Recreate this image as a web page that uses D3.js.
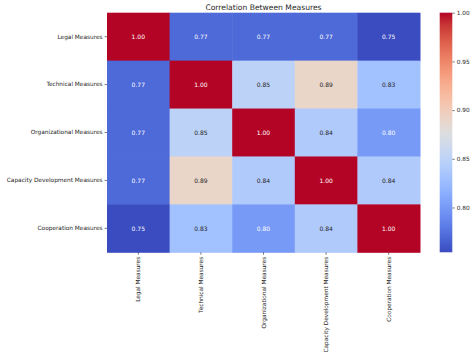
<!DOCTYPE html>
<html>
<head>
<meta charset="utf-8">
<script src="https://cdn.jsdelivr.net/npm/d3@7"></script>
<style>
  body { margin: 0; background: #fff; }
  text { font-family: "DejaVu Sans", sans-serif; }
</style>
</head>
<body>
<div class="chart"></div>
<script>
const width = 474;
const height = 352;

// data
const measures = ["Legal Measures", "Technical Measures", "Organizational Measures",
    "Capacity Development Measures", "Cooperation Measures"];
const corrLegal = [1.00, 0.77, 0.77, 0.77, 0.754];
const corrTechnical = [0.77, 1.00, 0.85, 0.89, 0.83];
const corrOrganizational = [0.77, 0.85, 1.00, 0.84, 0.80];
const corrCapacity = [0.77, 0.89, 0.84, 1.00, 0.84];
const corrCooperation = [0.754, 0.83, 0.80, 0.84, 1.00];
const cbTicks = [0.80, 0.85, 0.90, 0.95, 1.00];

const matrix = [corrLegal, corrTechnical, corrOrganizational, corrCapacity, corrCooperation];

// matplotlib coolwarm control points
const coolwarm = ["#3b4cc0", "#445acc", "#4d68d7", "#5775e1", "#6282ea", "#6c8ef1", "#779af7",
    "#82a5fb", "#8db0fe", "#98b9ff", "#a3c2ff", "#aec9fd", "#b8d0f9", "#c2d5f4", "#ccd9ee",
    "#d5dbe6", "#dddddd", "#e5d8d1", "#ecd3c5", "#f1ccb9", "#f5c4ad", "#f7bba0", "#f7b194",
    "#f7a687", "#f49a7b", "#f18d6f", "#ec7f63", "#e57058", "#de604d", "#d55042", "#cb3e38",
    "#c0282f", "#b40426"];
const vmin = 0.754, vmax = 1.0;
const color = d3.scaleSequential(d3.piecewise(d3.interpolateRgb, coolwarm)).domain([vmin, vmax]);

const svg = d3.select(".chart")
    .append("svg")
    .attr("width", width)
    .attr("height", height);

const mLeft = 107, mRight = 420, mTop = 12.7, mBottom = 252.3;

const x = d3.scaleBand().domain(measures).range([mLeft, mRight]);
const y = d3.scaleBand().domain(measures).range([mTop, mBottom]);

// cells
const cells = [];
matrix.forEach((row, i) => row.forEach((v, j) => cells.push({ r: measures[i], c: measures[j], v: v })));

svg.selectAll("rect.cell")
    .data(cells)
    .join("rect")
    .attr("class", "cell")
    .attr("x", d => x(d.c))
    .attr("y", d => y(d.r))
    .attr("width", x.bandwidth() + 0.5)
    .attr("height", y.bandwidth() + 0.5)
    .attr("fill", d => color(d.v));

svg.selectAll("text.annot")
    .data(cells)
    .join("text")
    .attr("class", "annot")
    .attr("x", d => x(d.c) + x.bandwidth() / 2)
    .attr("y", d => y(d.r) + y.bandwidth() / 2)
    .attr("text-anchor", "middle")
    .attr("dominant-baseline", "central")
    .attr("font-size", 6)
    .attr("fill", d => (d.v > 0.95 || d.v < 0.81) ? "#ffffff" : "#262626")
    .text(d => d.v.toFixed(2));

// axes
const xAxis = svg.append("g")
    .attr("transform", `translate(0,${mBottom})`)
    .call(d3.axisBottom(x).tickSize(2.5).tickPadding(2));
xAxis.select(".domain").remove();
xAxis.selectAll("text")
    .attr("font-size", 5.8)
    .attr("fill", "#262626")
    .attr("transform", "rotate(-90)")
    .attr("text-anchor", "end")
    .attr("dominant-baseline", "central")
    .attr("dy", null)
    .attr("y", 0)
    .attr("x", -4.5);
xAxis.selectAll("line").attr("stroke", "#262626").attr("stroke-width", 0.6);

const yAxis = svg.append("g")
    .attr("transform", `translate(${mLeft},0)`)
    .call(d3.axisLeft(y).tickSize(2.5).tickPadding(2));
yAxis.select(".domain").remove();
yAxis.selectAll("text").attr("font-size", 5.8).attr("fill", "#262626");
yAxis.selectAll("line").attr("stroke", "#262626").attr("stroke-width", 0.6);

// title
svg.append("text")
    .attr("x", (mLeft + mRight) / 2)
    .attr("y", 10)
    .attr("text-anchor", "middle")
    .attr("font-size", 7.6)
    .attr("fill", "#262626")
    .text("Correlation Between Measures");

// colorbar
const cbX = 439.7, cbW = 12.6;
const defs = svg.append("defs");
const grad = defs.append("linearGradient")
    .attr("id", "cb")
    .attr("x1", 0).attr("y1", 1).attr("x2", 0).attr("y2", 0);
d3.range(0, 1.0001, 0.05).forEach(t => {
    grad.append("stop")
        .attr("offset", t)
        .attr("stop-color", color(vmin + t * (vmax - vmin)));
});
svg.append("rect")
    .attr("x", cbX)
    .attr("y", mTop)
    .attr("width", cbW)
    .attr("height", mBottom - mTop)
    .attr("fill", "url(#cb)");

const cbScale = d3.scaleLinear().domain([vmin, vmax]).range([mBottom, mTop]);
const cbAxis = svg.append("g")
    .attr("transform", `translate(${cbX + cbW},0)`)
    .call(d3.axisRight(cbScale).tickValues(cbTicks).tickFormat(d3.format(".2f")).tickSize(2.5).tickPadding(2));
cbAxis.select(".domain").remove();
cbAxis.selectAll("text").attr("font-size", 5.8).attr("fill", "#262626");
cbAxis.selectAll("line").attr("stroke", "#262626").attr("stroke-width", 0.6);
</script>
</body>
</html>
